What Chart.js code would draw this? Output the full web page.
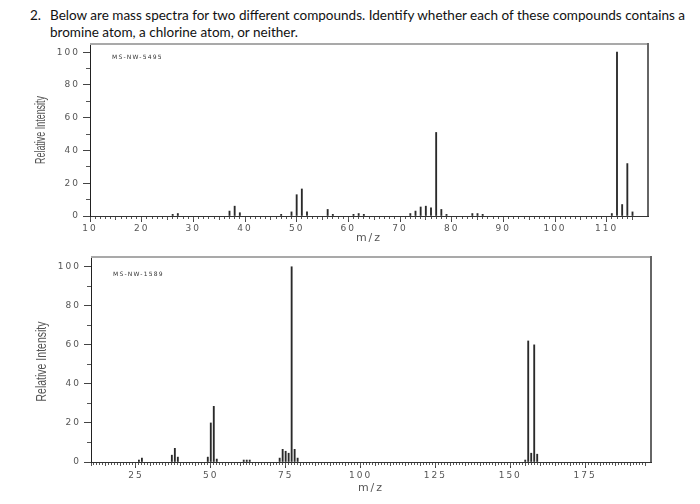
<!DOCTYPE html>
<html>
<head>
<meta charset="utf-8">
<script src="https://cdn.jsdelivr.net/npm/chart.js@4.4.1/dist/chart.umd.min.js"></script>
<style>
  html, body { margin: 0; padding: 0; background: #fff; width: 700px; height: 504px; overflow: hidden; }
  .ln { position: absolute; white-space: nowrap; font-family: Lato, 'Open Sans', sans-serif; font-size: 13px; color: #111; line-height: 16px; }
  canvas { position: absolute; left: 0; }
</style>
</head>
<body>
<div class="ln" style="left:30px;top:7px">2.</div>
<div class="ln" id="l1" style="left:50px;top:7px">Below are mass spectra for two different compounds. Identify whether each of these compounds contains a</div>
<div class="ln" id="l2" style="left:50px;top:24px">bromine atom, a chlorine atom, or neither.</div>

<canvas id="specTop" width="700" height="210" style="top:40px;width:700px;height:210px"></canvas>
<canvas id="specBot" width="700" height="254" style="top:250px;width:700px;height:254px"></canvas>

<script>
// spectrum 1 (MS-NW-5495)
const topMz  = [26, 27, 37, 38, 39, 47, 49, 50, 51, 52, 56, 57, 61, 62, 63, 72, 73, 74, 75, 76, 77, 78, 79, 84, 85, 86, 111, 112, 113, 114, 115];
const topInt = [1, 1.5, 3, 6, 2, 1, 2.5, 13, 16.5, 2.5, 4, 1, 1, 1.5, 1, 1.5, 3, 5.5, 6, 5, 51, 4, 1, 1.5, 1.5, 1, 1.5, 100, 7, 32, 2.5];

// spectrum 2 (MS-NW-1589)
const botMz  = [26, 27, 37, 38, 39, 49, 50, 51, 52, 61, 62, 63, 73, 74, 75, 76, 77, 78, 79, 155, 156, 157, 158, 159];
const botInt = [1, 2, 3.5, 7, 2.5, 2.5, 20, 28.5, 1.5, 1, 1, 1, 2, 6.5, 5.5, 4.5, 100, 6.5, 2, 1, 62, 4.5, 60, 4];

const topXLabels = [10, 20, 30, 40, 50, 60, 70, 80, 90, 100, 110];
const botXLabels = [25, 50, 75, 100, 125, 150, 175];
const yLabels = [0, 20, 40, 60, 80, 100];

// fit header width to the reference line length
(function () {
  const l1 = document.getElementById('l1');
  const fs = 13 * 636 / l1.getBoundingClientRect().width;
  document.querySelectorAll('.ln').forEach(el => el.style.fontSize = fs + 'px');
})();

function range(a, b, step) {
  const out = [];
  for (let v = a; v <= b; v += step) out.push(v);
  return out;
}

const frame = {
  id: 'frame',
  beforeDraw(chart) {
    chart.ctx.letterSpacing = '2px';
  },
  afterDraw(chart, args, o) {
    const { ctx, chartArea: a } = chart;
    ctx.save();
    ctx.letterSpacing = '0px';
    ctx.lineWidth = 2;
    ctx.strokeStyle = '#a9a9a9';
    ctx.beginPath();
    ctx.moveTo(a.left, a.top);
    ctx.lineTo(a.right, a.top);
    ctx.stroke();
    ctx.strokeStyle = '#666';
    ctx.beginPath();
    ctx.moveTo(a.right, a.top - 1);
    ctx.lineTo(a.right, a.bottom);
    ctx.stroke();

    // spectrum id
    ctx.letterSpacing = '1.2px';
    ctx.font = '6px "DejaVu Sans"';
    ctx.fillStyle = '#333';
    ctx.textBaseline = 'middle';
    ctx.textAlign = 'left';
    ctx.fillText(o.tag, a.left + 22, a.top + o.tagDy);

    // y title, condensed
    ctx.letterSpacing = '0px';
    ctx.font = o.yFont;
    ctx.fillStyle = '#555';
    ctx.textAlign = 'center';
    const w = ctx.measureText('Relative Intensity').width;
    ctx.translate(o.yX, (a.top + a.bottom) / 2 + o.yDy);
    ctx.rotate(-Math.PI / 2);
    ctx.scale(o.yLen / w, 1);
    ctx.fillText('Relative Intensity', 0, 0);
    ctx.restore();
    ctx.letterSpacing = '0px';
  }
};

const tickFont = { family: 'DejaVu Sans', size: 9 };

function spectrum(id, mz, inten, o) {
  return new Chart(document.getElementById(id), {
    type: 'bar',
    data: {
      datasets: [{
        data: mz.map((m, i) => ({ x: m, y: inten[i] })),
        backgroundColor: '#2a2a2a',
        barThickness: 1.2,
        borderWidth: 0
      }]
    },
    options: {
      responsive: false,
      animation: false,
      layout: { padding: { left: 30, right: o.padRight, top: o.padTop, bottom: 0 } },
      plugins: {
        legend: { display: false },
        tooltip: { enabled: false },
        frame: o.frame
      },
      scales: {
        x: {
          type: 'linear', axis: 'x', position: 'bottom', weight: 2, offset: false,
          min: o.xMin, max: o.xMax,
          afterBuildTicks: s => { s.ticks = o.xLabels.map(v => ({ value: v })); },
          ticks: { autoSkip: false, maxRotation: 0, color: '#555', font: tickFont, padding: o.labelPad },
          grid: { drawOnChartArea: false, tickLength: 6, color: '#444', offset: false },
          border: { color: '#333', width: 1 },
          title: {
            display: true, text: 'm/z', color: '#555',
            font: { family: 'DejaVu Sans', size: 11 },
            padding: { top: 0, bottom: o.titlePad }
          },
          afterFit: s => { s.height = o.xH; s.paddingLeft = 0; s.paddingRight = 0; }
        },
        xMid: {
          type: 'linear', axis: 'x', position: 'bottom', weight: 1, offset: false,
          min: o.xMin, max: o.xMax,
          afterBuildTicks: s => { s.ticks = range(o.xMin, o.xTickEnd, 5).map(v => ({ value: v })); },
          ticks: { display: false },
          grid: { drawOnChartArea: false, tickLength: 4, color: '#555', offset: false },
          border: { display: false },
          afterFit: s => { s.height = 0; s.paddingLeft = 0; s.paddingRight = 0; }
        },
        xMinor: {
          type: 'linear', axis: 'x', position: 'bottom', weight: 0, offset: false,
          min: o.xMin, max: o.xMax,
          afterBuildTicks: s => { s.ticks = range(o.xMin, o.xTickEnd, 1).map(v => ({ value: v })); },
          ticks: { display: false },
          grid: { drawOnChartArea: false, tickLength: 3, color: '#555', offset: false },
          border: { display: false },
          afterFit: s => { s.height = 0; s.paddingLeft = 0; s.paddingRight = 0; }
        },
        y: {
          axis: 'y', position: 'left', weight: 1,
          min: 0, max: 105,
          afterBuildTicks: s => { s.ticks = yLabels.map(v => ({ value: v })); },
          ticks: { color: '#555', font: tickFont, padding: 3 },
          grid: { drawOnChartArea: false, tickLength: 7, color: '#444' },
          border: { color: '#222', width: 1 },
          afterFit: s => { s.width = o.yW; s.paddingTop = 0; s.paddingBottom = 0; }
        },
        yMinor: {
          axis: 'y', position: 'left', weight: 0,
          min: 0, max: 105,
          afterBuildTicks: s => { s.ticks = range(10, 90, 20).map(v => ({ value: v })); },
          ticks: { display: false },
          grid: { drawOnChartArea: false, tickLength: 4, color: '#555' },
          border: { display: false },
          afterFit: s => { s.width = 0; s.paddingTop = 0; s.paddingBottom = 0; }
        }
      }
    },
    plugins: [frame]
  });
}

spectrum('specTop', topMz, topInt, {
  xMin: 10, xMax: 118, xTickEnd: 115, xLabels: topXLabels,
  padTop: 4, padRight: 52, yW: 60, xH: 34, labelPad: 1, titlePad: 5,
  frame: { tag: 'MS-NW-5495', tagDy: 13, yFont: '14px "Liberation Sans"', yX: 41, yDy: 0, yLen: 68 }
});

spectrum('specBot', botMz, botInt, {
  xMin: 10, xMax: 197, xTickEnd: 195, xLabels: botXLabels,
  padTop: 7, padRight: 49, yW: 61, xH: 42, labelPad: 2, titlePad: 9,
  frame: { tag: 'MS-NW-1589', tagDy: 17, yFont: '15px "Liberation Sans"', yX: 42, yDy: 2, yLen: 80 }
});
</script>
</body>
</html>
